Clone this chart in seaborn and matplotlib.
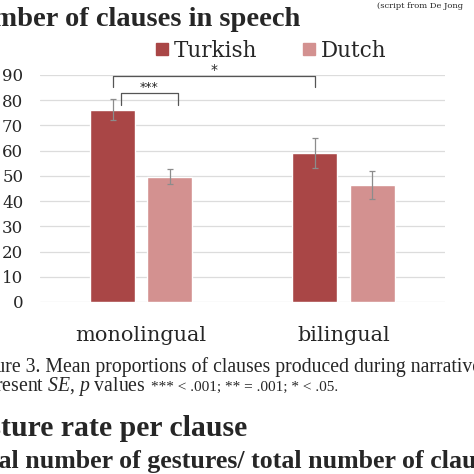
import pandas as pd
import matplotlib
matplotlib.use("Agg")
from matplotlib import pyplot as plt
from matplotlib.lines import Line2D
import seaborn as sns

# values (percent of clauses, error bars = SE)
groups = ["monolingual", "bilingual"]
languages = ["Turkish", "Dutch"]
turkish_means = [76.2, 59.0]
dutch_means = [49.7, 46.5]
turkish_se = [4.2, 6.0]
dutch_se = [3.0, 5.5]
y_ticks = [0, 10, 20, 30, 40, 50, 60, 70, 80, 90]

colors = {"Turkish": "#a94646", "Dutch": "#d39190"}

df = pd.DataFrame({
    "group": groups * 2,
    "language": ["Turkish"] * 2 + ["Dutch"] * 2,
    "value": turkish_means + dutch_means,
})

sns.set_style("white")
plt.rcParams["font.family"] = ["DejaVu Serif"]
plt.rcParams["mathtext.fontset"] = "custom"
plt.rcParams["mathtext.rm"] = "Liberation Serif"
plt.rcParams["mathtext.it"] = "Liberation Serif:italic"
page_font = "Liberation Serif"

fig = plt.figure(figsize=(4.74, 4.74), dpi=100)
ax = fig.add_axes([0.0844, 0.3629, 0.854, 0.4789])

sns.barplot(data=df, x="group", y="value", hue="language",
            order=groups, hue_order=languages, palette=colors,
            width=0.566, gap=0.215, errorbar=None, legend=False,
            saturation=1, ax=ax)

# error bars on top of the bars
for cont, se in zip(ax.containers, [turkish_se, dutch_se]):
    xs = [b.get_x() + b.get_width() / 2 for b in cont]
    ys = [b.get_height() for b in cont]
    ax.errorbar(xs, ys, yerr=se, fmt="none", ecolor="#8c8c8c",
                elinewidth=0.9, capsize=2, capthick=0.9, zorder=3)

ax.set_xlim(-0.5, 1.5)
ax.set_ylim(0, 90)
ax.set_yticks(y_ticks)
ax.yaxis.grid(True, color="#dcdcdc", linewidth=0.9)
ax.set_axisbelow(True)
ax.tick_params(axis="y", labelsize=12, length=0, pad=12)
ax.tick_params(axis="x", labelsize=15, length=0, pad=17.5)
ax.set_xlabel("")
ax.set_ylabel("")
sns.despine(ax=ax, left=True, bottom=True)

# significance brackets
tk = [b.get_x() + b.get_width() / 2 for b in ax.containers[0]]
dt = [b.get_x() + b.get_width() / 2 for b in ax.containers[1]]
ax.plot([tk[0], tk[0], tk[1], tk[1]], [85.3, 89.7, 89.7, 85.3],
        color="#555555", lw=0.9, clip_on=False)
ax.text((tk[0] + tk[1]) / 2, 91.8, "*", ha="center", va="center",
        fontsize=10, family="DejaVu Sans")
off = 0.04
ax.plot([tk[0] + off, tk[0] + off, dt[0] + off, dt[0] + off],
        [78.2, 82.9, 82.9, 78.2], color="#555555", lw=0.9, clip_on=False)
ax.text((tk[0] + dt[0]) / 2 + off, 85.2, "***", ha="center", va="center",
        fontsize=9, family="DejaVu Sans")

# legend
handles = [Line2D([], [], marker="s", ls="", markersize=9,
                  color=colors[l]) for l in languages]
fig.legend(handles, languages, loc="center", bbox_to_anchor=(0.57, 0.893),
           ncol=2, frameon=False, fontsize=15.5, handletextpad=0.15,
           columnspacing=2.0, handlelength=0.8)

# surrounding page text
fig.text(0.633, 0.946, "Number of clauses in speech", ha="right",
         va="baseline", fontsize=20.5, fontweight="bold", family=page_font)
fig.text(0.795, 0.995, "(script from De Jong", ha="left", va="top",
         fontsize=6)
fig.text(-0.066, 0.215,
         "Figure 3. Mean proportions of clauses produced during narrative",
         ha="left", va="baseline", fontsize=14.2, family=page_font)
fig.text(-0.063, 0.175, "represent $SE$, $p$ values", ha="left",
         va="baseline", fontsize=14.2, family=page_font)
fig.text(0.318, 0.175, "*** < .001; ** = .001; * < .05.", ha="left",
         va="baseline", fontsize=11, family=page_font)
fig.text(-0.099, 0.080, "Gesture rate per clause", ha="left",
         va="baseline", fontsize=21.4, fontweight="bold", family=page_font)
fig.text(-0.08, 0.0127, "Total number of gestures/ total number of clauses",
         ha="left", va="baseline", fontsize=18.6, fontweight="bold",
         family=page_font)

fig.savefig("out.png", dpi=100)
